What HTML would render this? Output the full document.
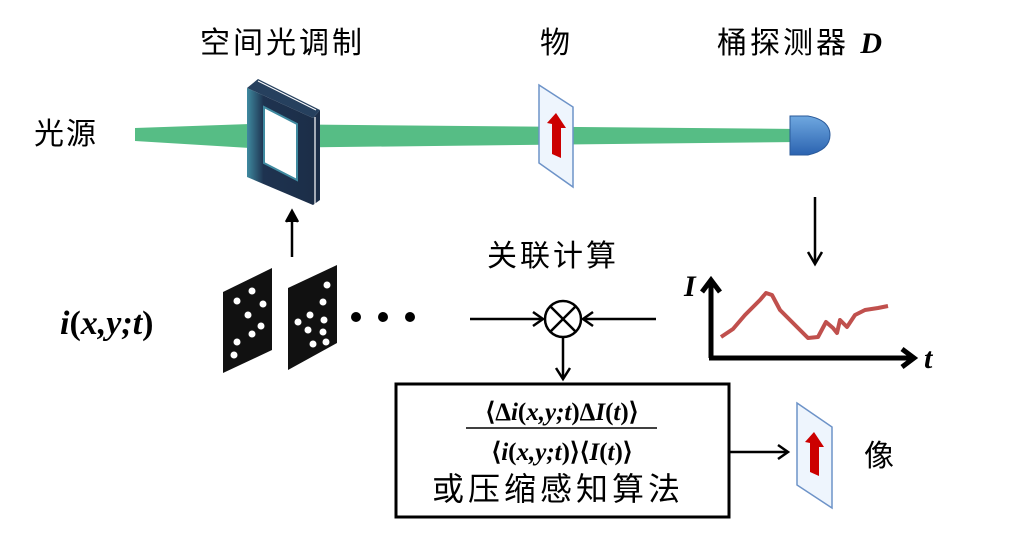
<!DOCTYPE html>
<html><head><meta charset="utf-8"><style>
body{margin:0;background:#fff;}
.s{font-family:"Liberation Sans","Noto Sans CJK SC",sans-serif;}
.m{font-family:"Liberation Serif",serif;font-weight:bold;font-style:italic;}
.n{font-style:normal;}
</style></head><body>
<svg width="1016" height="533" viewBox="0 0 1016 533" xmlns="http://www.w3.org/2000/svg">
<defs>
<linearGradient id="frm" x1="0" y1="0" x2="1" y2="0"><stop offset="0" stop-color="#3f8aa0"/><stop offset="0.25" stop-color="#1e3350"/><stop offset="1" stop-color="#1c2e48"/></linearGradient>
<linearGradient id="det" x1="0" y1="0" x2="0" y2="1"><stop offset="0" stop-color="#6fa8e0"/><stop offset="1" stop-color="#2b63b0"/></linearGradient>
</defs>
<polygon points="135,128 250,124 800,129 800,142 250,148 135,141" fill="#56bd85"/>
<polygon points="247,88 258,79 320,110 313,118" fill="#26405e"/>
<polygon points="313,118 320,110 320,200 313,205" fill="#1c2e48"/>
<line x1="315" y1="117" x2="315" y2="204" stroke="#fff" stroke-width="1.2"/>
<polygon points="247,88 313,118 313,205 247,177" fill="url(#frm)"/>
<polygon points="264,107 297,124 297,180 264,163" fill="#fff" stroke="#3f8aa0" stroke-width="2"/>
<line x1="258" y1="81" x2="316" y2="110" stroke="#fff" stroke-width="1"/>
<polygon points="539,85 573,107 573,187 539,163" fill="#eef5fd" stroke="#6d93c8" stroke-width="1.5"/>
<polygon points="556,113 566,128 561,128 561,158 552,154 552,124 547,123" fill="#cc0000"/>
<path d="M790,116 L808,116 Q830,120 830,135 Q830,150 808,155 L790,155 Z" fill="url(#det)" stroke="#2a5a9a"/>
<g stroke="#000" stroke-width="2.5" fill="none">
<line x1="292" y1="257" x2="292" y2="212"/>
<polyline points="286,222 292,211 298,222" fill="#000"/>
<line x1="815" y1="197" x2="815" y2="264"/>
<polyline points="808,252 815,264 822,252"/>
<line x1="470" y1="319" x2="543" y2="319"/>
<polyline points="533,312 543,319 533,326"/>
<line x1="656" y1="319" x2="583" y2="319"/>
<polyline points="593,312 583,319 593,326"/>
<circle cx="563" cy="319" r="18"/>
<line x1="551" y1="307" x2="575" y2="331"/><line x1="575" y1="307" x2="551" y2="331"/>
<line x1="563" y1="337" x2="563" y2="379"/>
<polyline points="556,368 563,379 570,368"/>
<line x1="730" y1="452" x2="788" y2="452"/>
<polyline points="778,445 788,452 778,459"/>
</g>
<g stroke="#000" stroke-width="5" fill="none">
<line x1="711" y1="358" x2="711" y2="282"/>
<polyline points="702,292 711,280 720,292"/>
<line x1="709" y1="358" x2="912" y2="358"/>
<polyline points="902,349 914,358 902,367"/>
</g>
<polyline points="721,337 733,329 745,315 760,300 766,293 772,295 780,310 795,325 808,338 818,337 826,322 833,328 837,333 840,320 847,327 855,315 865,310 878,308 888,306" stroke="#c0504d" stroke-width="4" fill="none" stroke-linejoin="round"/>
<rect x="396" y="384" width="333" height="133" fill="none" stroke="#000" stroke-width="3"/>
<polygon points="223,292 272,268 272,350 223,373" fill="#111"/>
<polygon points="288,288 337,265 337,343 288,370" fill="#111"/>
<g fill="#fff">
<circle cx="252" cy="291" r="3.5"/><circle cx="237" cy="301" r="3.5"/><circle cx="263" cy="304" r="3.5"/><circle cx="248" cy="315" r="3.5"/><circle cx="261" cy="326" r="3.5"/><circle cx="252" cy="334" r="3.5"/><circle cx="237" cy="342" r="3.5"/><circle cx="234" cy="355" r="3.5"/>
<circle cx="327" cy="285" r="3.5"/><circle cx="323" cy="302" r="3.5"/><circle cx="310" cy="315" r="3.5"/><circle cx="298" cy="322" r="3.5"/><circle cx="324" cy="320" r="3.5"/><circle cx="308" cy="330" r="3.5"/><circle cx="323" cy="332" r="3.5"/><circle cx="313" cy="344" r="3.5"/><circle cx="326" cy="342" r="3.5"/>
</g>
<g fill="#000"><circle cx="356" cy="317" r="5"/><circle cx="383" cy="317" r="5"/><circle cx="410" cy="317" r="5"/></g>
<polygon points="797,403 832,427 832,508 797,485" fill="#eef5fd" stroke="#6d93c8" stroke-width="1.5"/>
<polygon points="814,432 824,447 819,447 819,476 810,472 810,443 805,442" fill="#cc0000"/>
<g class="s" font-size="30" fill="#000">
<text x="200" y="53" letter-spacing="3">空间光调制</text>
<text x="540" y="53">物</text>
<text x="717" y="53" letter-spacing="3">桶探测器 <tspan class="m">D</tspan></text>
<text x="34" y="144" letter-spacing="2">光源</text>
<text x="487" y="266" letter-spacing="3">关联计算</text>
<text x="864" y="466">像</text>
</g>
<g class="m" fill="#000">
<text x="60" y="334" font-size="34">i<tspan class="n">(</tspan>x,y;t<tspan class="n">)</tspan></text>
<text x="684" y="296" font-size="30">I</text>
<text x="924" y="368" font-size="30">t</text>
<text x="562" y="420" font-size="25" text-anchor="middle"><tspan class="n">⟨Δ</tspan>i<tspan class="n">(</tspan>x,y;t<tspan class="n">)Δ</tspan>I<tspan class="n">(</tspan>t<tspan class="n">)⟩</tspan></text>
<text x="562" y="460" font-size="25" text-anchor="middle"><tspan class="n">⟨</tspan>i<tspan class="n">(</tspan>x,y;t<tspan class="n">)⟩⟨</tspan>I<tspan class="n">(</tspan>t<tspan class="n">)⟩</tspan></text>
</g>
<line x1="466" y1="428" x2="657" y2="428" stroke="#000" stroke-width="1.5"/>
<text class="s" x="432" y="500" font-size="32" letter-spacing="4" fill="#000">或压缩感知算法</text>
</svg>
</body></html>
